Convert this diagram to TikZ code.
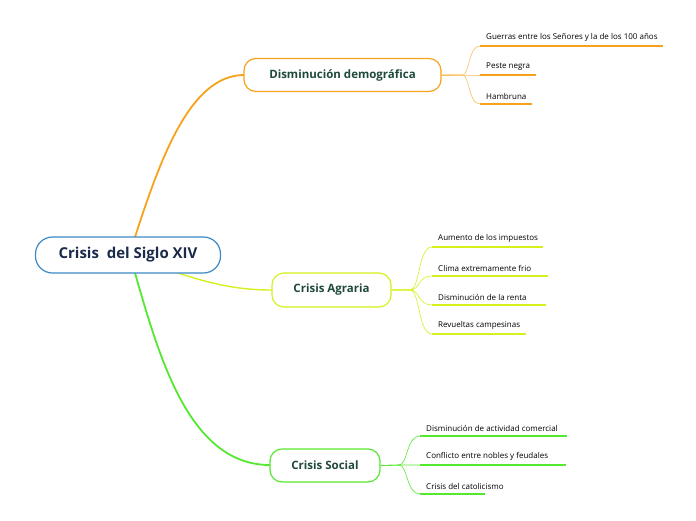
\documentclass[tikz,border=0pt]{standalone}
\usepackage{fontspec}
\setmainfont{Open Sans}
\definecolor{cor}{HTML}{F7A21B}
\definecolor{cye}{HTML}{D6F01E}
\definecolor{cgr}{HTML}{55E830}
\definecolor{cbl}{HTML}{3A8AC8}
\definecolor{ctx}{HTML}{1F4A3A}
\definecolor{cnv}{HTML}{1A2A4A}
\begin{document}
\begin{tikzpicture}[x=1pt,y=-1pt,
  topic/.style={draw,line width=1.2pt,rounded corners=12pt,fill=white,font=\bfseries\fontsize{11.5}{13}\selectfont,text=ctx,inner sep=0pt},
  leaf/.style={anchor=south west,font=\fontsize{8}{10}\selectfont,inner sep=1pt,text=black}]
\useasboundingbox (0,0) rectangle (696,520);
% main connectors
\draw[cor,line width=1.8pt] (135,237) .. controls (160,160) and (190,75) .. (244,75);
\draw[cye,line width=1.4pt] (178,273) .. controls (215,285) and (240,290) .. (272,290);
\draw[cgr,line width=1.8pt] (135,273) .. controls (160,360) and (190,465) .. (270,465);
% central
\node[draw=cbl,line width=1.2pt,rounded corners=17pt,fill=white,minimum width=185pt,minimum height=36pt,font=\bfseries\fontsize{15}{17}\selectfont,text=cnv] (c) at (128,255) {Crisis\ \ del Siglo XIV};
\node[topic,draw=cor,minimum width=197pt,minimum height=33pt] (d) at (342.5,75) {Disminución demográfica};
\node[topic,draw=cye,minimum width=119pt,minimum height=34pt] (a) at (331.5,290) {Crisis Agraria};
\node[topic,draw=cgr,minimum width=110pt,minimum height=33pt] (s) at (325,465.5) {Crisis Social};
% leaves
\foreach \y/\x/\t/\n in {46/663/{Guerras entre los Señores y la de los 100 años}/d1,75/536/{Peste negra}/d2,104/532/{Hambruna}/d3}{
  \coordinate (\n s) at (480,\y); \coordinate (\n e) at (\x,\y);
  \draw[cor,line width=1.6pt] (\n s) -- (\n e);
  \node[leaf] at (485,\y-3) {\t};
  \draw[cor!70,line width=0.6pt] (d.east) -- (462,75) .. controls (470,75) and (468,\y) .. (\n s);
}
\foreach \y/\x/\t/\n in {247/543/{Aumento de los impuestos}/a1,276/548/{Clima extremamente frio}/a2,305/546/{Disminución de la renta}/a3,334/526/{Revueltas campesinas}/a4}{
  \coordinate (\n s) at (432,\y); \coordinate (\n e) at (\x,\y);
  \draw[cye,line width=1.6pt] (\n s) -- (\n e);
  \node[leaf] at (437,\y-3) {\t};
  \draw[cye,line width=0.6pt] (a.east) -- (410,290) .. controls (420,290) and (418,\y) .. (\n s);
}
\foreach \y/\x/\t/\n in {436/567/{Disminución de actividad comercial}/s1,465/566/{Conflicto entre nobles y feudales}/s2,494/485/{Crisis del catolicismo}/s3}{
  \coordinate (\n s) at (420,\y); \coordinate (\n e) at (\x,\y);
  \draw[cgr,line width=1.6pt] (\n s) -- (\n e);
  \node[leaf] at (425,\y-3) {\t};
  \draw[cgr,line width=0.6pt] (s.east) -- (399,465) .. controls (408,465) and (406,\y) .. (\n s);
}
\end{tikzpicture}
\end{document}
